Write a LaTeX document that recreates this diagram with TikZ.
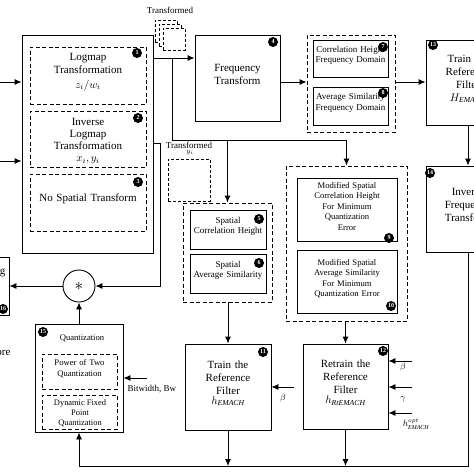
\documentclass[tikz,border=0pt]{standalone}
\usepackage{fontspec}
\setmainfont{Liberation Serif}
\usetikzlibrary{arrows.meta,fit}
\begin{document}
\begin{tikzpicture}[x=1pt,y=-1pt,
  box/.style={draw, line width=0.9pt, inner sep=0pt, fill=white},
  dbox/.style={draw, line width=0.9pt, dash pattern=on 4pt off 2.5pt, inner sep=0pt},
  t11/.style={font=\fontsize{11}{13}\selectfont, align=center},
  t9/.style={font=\fontsize{9}{10.5}\selectfont, align=center},
  t85/.style={font=\fontsize{8.6}{10.5}\selectfont, align=center},
  badge/.style={circle, fill=black, text=white, inner sep=0pt, minimum size=10pt, font=\fontsize{6}{6}\selectfont\bfseries},
  arr/.style={line width=0.9pt, -{Latex[length=7pt,width=6pt]}},
  ln/.style={line width=0.9pt},
]
\useasboundingbox (0,0) rectangle (474,474);
\clip (0,0) rectangle (474,474);
\fill[white] (0,0) rectangle (474,474);

% main spatial transform block
\node[box, fit={(22,35)(153,253)}] (main) {};
\node[dbox, fit={(30,47)(146,104)}, t11] (log) {Logmap\\Transformation\\[2pt]$z_i/w_i$};
\node[dbox, fit={(30,111)(146,167)}] (inv) {};
\node[t11, font=\fontsize{11}{12}\selectfont] (invt) at (88,141) {Inverse\\Logmap\\Transformation\\$x_i, y_i$};
\node[dbox, fit={(30,174)(146,231)}, t11] (nost) {No Spatial Transform};
\node[badge] (n1) at (137,53) {1};
\node[badge] (n2) at (138,118) {2};
\node[badge] (n3) at (138,182) {3};

% transformed stack
\node[t9] (tr1) at (170,10) {Transformed};
\node[dbox, fill=white, dash pattern=on 3pt off 2pt, fit={(155,20)(177,42)}] (st1) {};
\node[dbox, fill=white, dash pattern=on 3pt off 2pt, fit={(159,24)(181,46)}] (st2) {};
\node[dbox, fill=white, dash pattern=on 3pt off 2pt, fit={(163,28)(185,50)}] (st3) {};

% frequency transform
\node[box, fit={(195,35)(280,121)}, t11] (freq) {Frequency\\Transform};
\node[badge] (n4) at (273,42) {4};

% frequency domain measures
\node[dbox, fit={(307,35)(395,132)}] (d78) {};
\node[box, fit={(313,40)(388,77)}, t9] (b7) {Correlation Height\\Frequency Domain};
\node[box, fit={(313,87)(388,125)}, t9] (b8) {Average Similarity\\Frequency Domain};
\node[badge] (n7) at (383,47) {7};
\node[badge] (n8) at (383,93) {8};

% right column
\node[box, fit={(426,40)(510,125)}, t11] (b13) {Train the\\Reference\\Filter\\$H_{\mathit{EMACH}}$};
\node[badge] (n13) at (433,45) {13};
\node[box, fit={(426,166)(510,252)}, t11] (b14) {Inverse\\Frequency\\Transform};
\node[badge] (n14) at (430,173) {14};

% transformed y
\node[t9] (tr2) at (189,145) {Transformed};
\node[font=\fontsize{7.5}{7.5}\selectfont] (ty) at (190,153) {$y_i$};
\node[dbox, dash pattern=on 3pt off 2pt, fit={(168,159)(210,201)}] (tyb) {};

% spatial measures
\node[dbox, fit={(183,203)(272,302)}] (d56) {};
\node[box, fit={(190,210)(266,249)}, t9] (b5) {Spatial\\Correlation Height};
\node[box, fit={(190,254)(266,293)}, t9] (b6) {Spatial\\Average Similarity};
\node[badge] (n5) at (259,219) {5};
\node[badge] (n6) at (259,263) {6};

% modified spatial measures
\node[dbox, fit={(286,166)(407,321)}] (d910) {};
\node[box, fit={(297,178)(397,241)}, t85] (b9) {Modified Spatial\\Correlation Height\\For Minimum\\Quantization\\Error};
\node[box, fit={(297,250)(397,313)}, t85] (b10) {Modified Spatial\\Average Similarity\\For Minimum\\Quantization Error};
\node[badge] (n9) at (389,238) {9};
\node[badge] (n10) at (391,306) {10};

% training filters
\node[box, fit={(185,344)(271,430)}, t11] (b11) {Train the\\Reference\\Filter\\[-3pt]$h_{\mathit{EMACH}}$};
\node[badge] (n11) at (263,352) {11};
\node[box, fit={(303,344)(388,429)}, t11] (b12) {Retrain the\\Reference\\Filter\\[-3pt]$h_{\mathit{RtEMACH}}$};
\node[badge] (n12) at (383,351) {12};

% quantization
\node[box, fit={(35,324)(123,432)}] (b15) {};
\node[t85] (q15) at (82,338) {Quantization};
\node[badge] (n15) at (43,332) {15};
\node[dbox, fit={(42,354)(117,389)}, t85] (pot) {Power of Two\\Quantization};
\node[dbox, fit={(42,395)(117,429)}] (dfp) {};
\node[t85, font=\fontsize{8.4}{10}\selectfont] (dfpt) at (80,413) {Dynamic Fixed\\Point\\Quantization};
\node[t9, anchor=west] (bw) at (124,389) {Bitwidth, Bw};

% multiplier and left box
\node[draw, circle, line width=0.9pt, minimum size=32pt, inner sep=0pt, font=\LARGE] (mul) at (79,286) {$\ast$};
\node[box, fit={(-50,257)(9,315)}] (b16) {};
\node[t11, anchor=east] (t16) at (9,272) {Matching};
\node[badge] (n16) at (3,309) {16};
\node[t11, anchor=east] (t17) at (14,352) {Score};

% labels
\node[t9] (lb1) at (283,398) {$\beta$};
\node[t9] (lb2) at (403,367) {$\beta$};
\node[t9] (lb3) at (403,399) {$\gamma$};
\node[t9] (lb4) at (416,424) {$h^{opt}_{\mathit{EMACH}}$};

% free ends
\coordinate (in1) at (0,82);
\coordinate (in2) at (0,161);
\coordinate (j1) at (172,58);
\coordinate (j2) at (172,140);
\coordinate (k1) at (160,143);
\coordinate (k2) at (160,286);
\coordinate (bc1) at (294,387);
\coordinate (rc1) at (412,361);
\coordinate (rc2) at (412,387);
\coordinate (rc3) at (412,413);
\coordinate (bwc) at (147,378);

% connectors
\draw[arr] (in1) -- (in1 -| main.west);
\draw[arr] (in2) -- (in2 -| main.west);
\draw[arr] (main.east |- 0,58) -- (freq.west |- 0,58);
\draw[arr] (j1) -- (j2) -| (d910.north);
\draw[arr] (j2 -| d56.north) -- (d56.north);
\draw[arr] (freq.east |- 0,82) -- (d78.west |- 0,82);
\draw[arr] (d78.east |- 0,82) -- (b13.west |- 0,82);
\draw[arr] (b13) -- (b14);
\draw[arr] (b14.south) |- (b15.south |- 0,466) -- (b15.south);
\draw[arr] (d56.south -| b11.north) -- (b11.north);
\draw[arr] (b11.south) -- (b11.south |- 0,466);
\draw[arr] (d910.south -| b12.north) -- (b12.north);
\draw[arr] (b12.south) -- (b12.south |- 0,466);
\draw[arr] (bc1) -- (bc1 -| b11.east);
\draw[arr] (rc1) -- (rc1 -| b12.east);
\draw[arr] (rc2) -- (rc2 -| b12.east);
\draw[arr] (rc3) -- (rc3 -| b12.east);
\draw[arr] (bwc) -- (bwc -| b15.east);
\draw[arr] (b15.north) -- (mul.south);
\draw[arr] (main.east |- k1) -- (k1) -- (k2) -- (mul.east);
\draw[arr] (mul.west) -- (mul.west -| b16.east);
\end{tikzpicture}
\end{document}
